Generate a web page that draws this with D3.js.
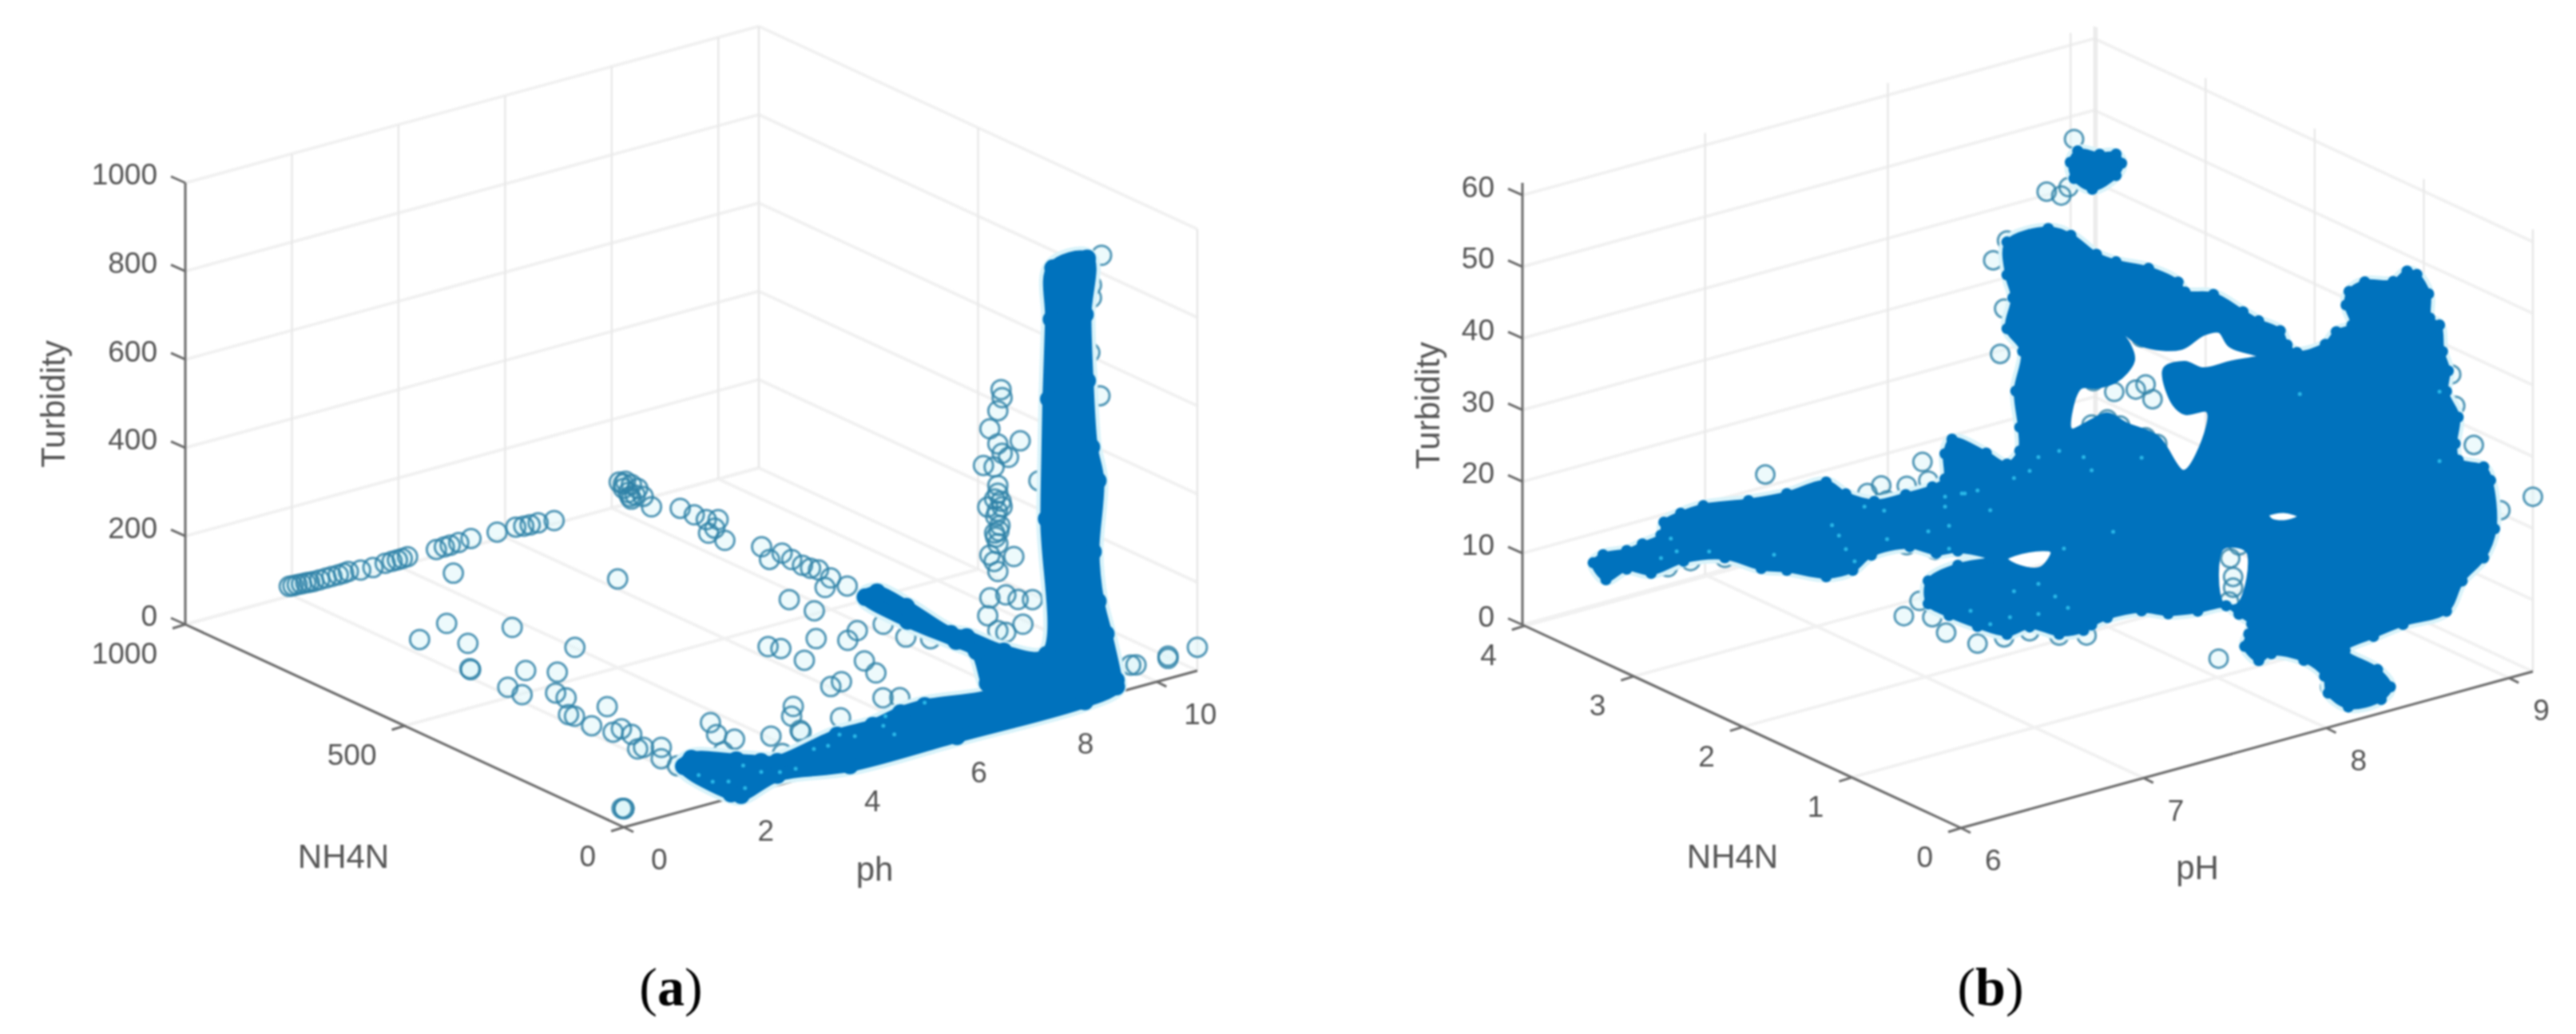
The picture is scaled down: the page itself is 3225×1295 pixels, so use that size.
<!DOCTYPE html>
<html>
<head>
<meta charset="utf-8">
<title>Turbidity, NH4N and pH scatter</title>
<script src="https://cdnjs.cloudflare.com/ajax/libs/d3/7.8.5/d3.min.js"></script>
<style>
  html, body { margin: 0; background: #fff; }
  svg { display: block; filter: blur(0.9px); }
  text { font-family: "Liberation Sans", Arial, sans-serif; fill: #555; }
  .panel { font-family: "Liberation Serif", serif; fill: #000; }
</style>
</head>
<body>
<svg id="chart" width="3225" height="1295"></svg>
<script>
// tick labels
var phTicksA = [0, 2, 4, 6, 8, 10];
var nTicksA = [0, 500, 1000];
var turbTicksA = [0, 200, 400, 600, 800, 1000];
var phTicksB = [6, 7, 8, 9];
var nTicksB = [0, 1, 2, 3, 4];
var turbTicksB = [0, 10, 20, 30, 40, 50, 60];

// panel (a): outline of the solid mass of overlapping markers [ph, NH4N, turbidity]
var massA = [[8.30,30,979],[8.94,30,980],[8.90,30,854],[8.94,30,703],[9.02,30,550],[9.14,30,470],[9.05,30,312],[9.14,30,197],[9.29,30,118],[9.48,30,7],[9.24,0,14],[8.65,0,0],[6.25,0,0],[4.24,0,0],[2.88,0,23],[2.2,0,0],[2.12,13,0],[2.26,138,0],[2.55,156,0],[3.04,113,0],[3.29,87,0],[3.48,73,0],[4.86,104,0],[5.53,104,0],[6.18,120,0],[6.65,122,0],[7.80,103,0],[7.96,138,0],[8.65,247,0],[8.67,296,0],[8.61,399,0],[8.72,509,0],[8.98,514,0],[8.96,445,0],[8.79,323,0],[8.90,300,0],[8.97,224,0],[9.39,177,0],[8.18,30,415],[8.22,30,685],[8.27,30,864]];

// panel (a): single markers
var ringsA = [
  // row along the back at NH4N = 1000
  [1.95,1000,21.9],[2.02,1000,21],[2.10,1000,20.8],[2.18,1000,20],[2.26,1000,19.5],[2.33,1000,18.5],[2.41,1000,17.9],[2.52,1000,18],[2.64,1000,17.9],[2.75,1000,18],[2.87,1000,17.7],[2.97,1000,18],[3.06,1000,19],[3.29,1000,14.8],[3.52,1000,12.7],[3.75,1000,14.8],[3.88,1000,15],[3.98,1000,14.8],[4.07,1000,15],[4.17,1000,15.9],[4.71,1000,14.5],[4.86,1000,15.4],[4.97,1000,15.6],[5.13,1000,16.3],[5.36,1000,17.7],[5.85,1000,16.3],[6.20,1000,16.1],[6.35,1000,13.4],[6.47,1000,12.3],[6.62,1000,11.9],[6.92,1000,7.2],
  // knot at the far end of that row
  [8.22,1000,47.7],[8.34,1000,14.8],[8.59,1000,7],[8.14,1000,54],[8.26,1000,52],[8.37,1000,41],[8.49,1000,28],[8.22,1000,37],[8.31,1000,25],[8.44,1000,15],[8.37,1000,8],
  // band coming back towards the front
  [8.50,970,0],[8.80,941,0],[8.80,909,0],[8.82,884,0],[8.96,874,0],[8.50,840,0],[8.51,804,0],[8.70,850,0],[8.78,753,0],[8.55,707,0],[8.86,716,0],[8.81,688,0],[8.79,661,0],[8.81,645,0],[8.86,633,0],[8.80,598,0],[8.49,573,0],[8.79,559,0],
  // loose floor markers
  [2.38,755,0],[3.11,782,0],[2.85,702,0],[4.47,932,0],[3.78,714,0],[6.26,775,0],[2.21,618,0],[2.23,622,0],[2.20,532,0],[2.84,569,0],[2.18,497,0],[3.17,537,0],[2.62,474,0],[2.62,450,0],[2.22,396,0],[2.25,386,0],[4.01,599,0],[2.21,342,0],[2.88,388,0],[2.30,304,0],[2.48,307,0],[2.46,281,0],[2.16,231,0],[0.47,57,0],[0.48,58,0],[0.46,60,0],
  [2.27,231,0],[2.48,216,0],[2.19,181,0],[2.20,145,0],[3.69,251,0],[3.46,209,0],[3.55,179,0],[3.09,149,0],[4.06,158,0],[3.75,94,0],[5.08,231,0],[4.81,202,0],[4.55,151,0],[4.52,145,0],[5.35,156,0],[6.03,261,0],[6.28,267,0],[6.91,265,0],[7.08,312,0],[6.31,438,0],[6.41,421,0],[6.39,365,0],[7.08,422,0],[7.41,390,0],[7.77,412,0],[7.76,566,0],[7.77,510,0],[6.36,182,0],[6.56,168,0],[8.24,410,0],[8.18,351,0],[8.43,325,0],
  // far right end of the ph axis
  [9.61,0,51],[9.51,0,54],[10.21,0,46],[10.21,0,51],[10.76,0,53],
  // second column
  [7.90,100,685],[7.92,100,666],[7.84,100,639],[7.69,100,603],[8.26,100,557],[7.84,100,564],[7.92,100,540],[7.57,100,524],[8.04,100,527],[7.77,100,514],[7.84,100,470],[7.84,100,452],[7.65,100,427],[7.92,100,419],[7.80,100,401],[7.88,100,378],[7.80,100,354],[7.84,100,338],[7.69,100,317],[8.14,100,299],[7.77,100,300],[7.84,100,275],[7.65,100,181],[7.69,100,220],[7.99,100,217],[8.22,100,199],[8.49,100,190],[7.84,100,141],[7.99,100,132],[8.31,100,140],[8.61,100,455],[7.78,100,441],[7.90,100,432],[7.83,100,412],[7.86,100,366],[7.78,100,364],
  // stragglers beside the main column
  [9.21,30,978],[9.02,30,917],[9.02,30,888],[8.99,30,765],[9.18,30,661]
];

// panel (a): small bright gaps between markers inside the mass
var specksA = [[2.43,19,0],[2.40,53,0],[2.98,90,0],[3.03,55,0],[3.25,39,0],[3.52,36,0],[4.24,82,0],[4.49,80,0],[4.91,105,0],[5.05,87,0],[5.65,95,0],[5.56,59,0],[5.92,123,0],[6.73,132,0],[2.21,98,0],[2.21,66,0]];

// panel (b): outline of the solid mass [pH, NH4N, turbidity]
var massB = [[7.50,2.09,56.6],[7.63,1.93,58.7],[7.70,1.84,57.9],[7.78,1.74,55.4],[7.84,1.66,54.5],[7.94,1.53,53.8],[8.03,1.41,52.1],[8.05,1.38,50.8],[8.14,1.27,50.6],[8.23,1.15,48.4],[8.28,1.09,47.2],[8.35,1.01,45.9],[8.37,0.98,44.0],[8.40,0.94,43.0],[8.49,0.83,44.3],[8.52,0.78,46.2],[8.57,0.72,47.2],[8.55,0.74,50.0],[8.56,0.73,51.9],[8.61,0.67,53.3],[8.70,0.56,53.5],[8.74,0.50,55.1],[8.77,0.46,54.7],[8.81,0.42,52.0],[8.81,0.41,48.7],[8.84,0.37,47.8],[8.85,0.36,44.1],[8.87,0.34,41.4],[8.86,0.34,38.6],[8.90,0.30,35.0],[8.89,0.31,31.3],[8.90,0.30,29.0],[8.98,0.20,28.2],[9.00,0.17,26.4],[9.01,0.15,19.7],[8.98,0.20,15.5],[8.91,0.28,12.2],[8.86,0.34,7.9],[8.73,0.52,5.7],[8.64,0.64,3.8],[8.55,0.75,1.7],[8.28,0,6.2],[8.35,0,3.3],[8.30,0,1.9],[8.12,0,2.1],[8.01,0,4.8],[7.99,0,7.3],[8.42,0.91,0.1],[8.32,1.04,0.8],[7.63,0,12.0],[8.24,1.15,1.6],[8.25,1.13,3.4],[8.26,1.12,4.8],[8.22,1.17,6.1],[8.18,1.22,7.2],[8.09,1.33,6.3],[8.00,1.45,5.7],[7.92,1.56,5.9],[7.81,1.69,4.8],[7.76,1.75,3.7],[7.74,1.79,2.8],[7.66,1.88,2.2],[7.57,2.00,3.0],[7.50,2.09,1.8],[7.41,2.21,2.7],[7.32,2.32,4.1],[7.26,2.41,5.5],[7.26,2.41,8.7],[7.35,2.29,11.1],[7.45,2.16,12.3],[7.35,2.29,13.1],[7.28,2.37,12.7],[7.20,2.48,13.4],[7.08,2.63,12.0],[7.02,2.70,9.8],[6.94,2.81,8.7],[6.82,2.97,9.3],[6.74,3.07,9.4],[6.63,3.22,10.6],[6.50,3.38,9.9],[6.40,3.51,8.0],[6.32,3.60,8.5],[6.26,3.69,6.8],[6.22,3.74,9.1],[6.25,3.70,10.3],[6.32,3.60,11.1],[6.37,3.54,12.1],[6.43,3.47,13.4],[6.44,3.46,15.2],[6.49,3.39,16.6],[6.56,3.30,17.8],[6.70,3.12,18.8],[6.82,2.97,20.0],[6.94,2.81,21.9],[7.00,2.73,20.4],[7.09,2.62,19.5],[7.19,2.50,20.6],[7.27,2.39,21.9],[7.31,2.34,23.1],[7.31,2.34,26.6],[7.33,2.31,28.7],[7.44,2.18,26.9],[7.50,2.09,25.6],[7.54,2.04,27.5],[7.54,2.04,30.8],[7.53,2.06,35.8],[7.55,2.03,41.4],[7.50,2.09,44.5],[7.52,2.07,48.8],[7.50,2.09,52.0]];

// panel (b): white gaps left inside that mass
var gapsB = [
  [[7.84,1.66,45.5],[7.92,1.56,43.1],[8.04,1.40,42.9],[8.11,1.32,44.9],[8.16,1.25,45.5],[8.19,1.20,43.6],[8.28,1.09,42.3],[8.19,1.20,41.2],[8.11,1.32,40.0],[8.05,1.38,40.9],[7.99,1.46,40.0],[7.99,1.47,38.6],[8.02,1.43,35.0],[8.05,1.38,33.9],[8.12,1.29,34.4],[8.12,1.29,32.0],[8.05,1.39,25.6],[7.97,1.50,30.2],[7.87,1.62,31.9],[7.81,1.69,33.2],[7.76,1.75,32.2],[7.70,1.84,30.7],[7.70,1.84,33.5],[7.73,1.80,36.8],[7.78,1.74,36.9],[7.84,1.66,37.9],[7.89,1.59,40.8],[7.88,1.61,43.0]],
  [[8.31,1.06,20.1],[8.36,0.99,20.8],[8.41,0.93,20.1],[8.37,0.98,19.3],[8.32,1.04,19.4]],
  [[8.17,1.24,15.2],[8.25,1.14,14.9],[8.22,1.17,7.5],[8.17,1.24,7.4]],
  [[7.50,2.10,12.3],[7.57,2.01,13.6],[7.64,1.91,13.7],[7.61,1.96,11.2],[7.54,2.04,11.3]]
];

// panel (b): small knot of markers near the top
var knotB = [[8.39,3,55.1],[8.43,3,56.4],[8.55,3,55.1],[8.64,3,54.5],[8.67,3,53],[8.64,3,51.5],[8.51,3,50.5],[8.41,3,52.7]];

// panel (b): single markers
var ringsB = [
  [8.41,3,58.2],[8.26,3,51.9],[8.34,3,50.8],[8.38,3,51.7],
  [7.46,2.15,53.9],[7.49,2.10,47.3],[7.48,2.12,40.9],[7.50,2.09,56.8],
  [7.90,1.58,36.8],[7.95,1.51,35.6],[7.93,1.54,37.6],[7.83,1.66,36.4],[7.77,1.75,37.7],[7.92,1.56,44.1],[7.88,1.60,30.1],[7.93,1.54,30.2],[7.97,1.50,29.3],[7.76,1.75,31.7],[7.81,1.69,32.5],[7.85,1.64,31.7],
  [9.13,0,24.4],[9.03,0.13,22.3],[8.95,0.24,31.2],[8.89,0.31,36.6],[8.88,0.33,40.9],
  [6.75,3.05,22.6],[7.24,2.43,25.3],[7.26,2.41,22.7],[7.19,2.49,21.9],[7.11,2.59,21.8],[7.07,2.65,20.6],[7.13,2.57,19.7],
  [6.25,3.69,9.2],[6.25,3.69,9.5],[6.26,3.68,8.8],[6.32,3.60,10.0],[6.37,3.54,10.8],[6.39,3.51,8.9],[6.45,3.44,9.0],[6.52,3.35,10.0],[6.63,3.22,10.6],[6.74,3.07,10.1],[6.82,2.97,10.2],[6.94,2.81,9.6],[7.02,2.70,10.7],[7.19,2.49,13.6],[7.28,2.38,13.1],[7.33,2.32,13.6],
  [7.18,2.50,3.7],[7.23,2.44,5.9],[7.27,2.39,3.7],[7.31,2.33,1.7],[7.41,2.21,0.3],[7.37,2.26,4.1],[7.49,2.10,1.4],[7.57,2.00,2.4],[7.66,1.88,2.0],[7.75,1.78,2.1],[7.73,1.80,3.4],
  [7.41,0,13.8],[8.22,1.17,15.7],[8.19,1.20,13.9],[8.20,1.19,11.3],[8.20,1.19,9.8],[8.19,1.21,7.8],
  [8.02,0,5.6],[8.12,0,2.9],[8.07,0,4.2]
];

// panel (b): small bright gaps between markers inside the mass
var specksB = [[7.06,2.66,18.7],[7.12,2.58,18.3],[7.31,2.34,19.2],[7.36,2.27,21.2],[7.41,2.21,21.7],[7.45,2.16,19.0],[6.98,2.76,14.5],[7.00,2.73,12.7],[7.13,2.57,14.3],[7.26,2.41,15.6],[7.32,2.32,16.6],[6.96,2.79,15.9],[7.03,2.70,11.0],[6.46,3.43,13.0],[6.48,3.41,11.2],[6.43,3.47,10.2],[6.58,3.28,11.4],[6.78,3.02,11.4],[7.31,2.34,20.6],[7.37,2.26,21.2],[7.52,2.06,23.7],[7.60,1.97,26.7],[7.57,2.00,24.8],[7.66,1.88,27.8],[7.76,1.75,25.3],[7.92,1.56,27.3],[7.74,1.79,27.0],[8.41,0.93,37.2],[8.84,0.37,28.8],[8.84,0.37,38.5],[7.32,2.32,13.4],[7.52,2.06,7.9],[7.60,1.97,9.0],[7.65,1.90,7.4],[7.69,1.85,5.9],[7.60,1.97,4.8],[7.51,2.08,4.2],[7.39,2.24,4.8],[7.45,2.16,3.1],[7.68,1.87,14.1],[7.83,1.67,16.8]];

var ringStroke = '#2f82a8';
var ringFill = '#dcf5fa';
var massBlue = '#0072bd';
var speckColor = '#2ab8e8';
var gridColor = '#f1f1f1';
var axisColor = '#6b6b6b';

var svg = d3.select('#chart');

// oblique projection of a box: each axis scale gives a 0-1 position along that edge
function makeProjection(box) {
  var sx = d3.scaleLinear().domain(box.phLim).range([0, 1]);
  var sy = d3.scaleLinear().domain(box.nLim).range([0, 1]);
  var sz = d3.scaleLinear().domain(box.tLim).range([0, 1]);
  return function(d) {
    var u = sx(d[0]), v = sy(d[1]), w = sz(d[2]);
    return [
      box.origin[0] + u * box.phVec[0] + v * box.nVec[0],
      box.origin[1] + u * box.phVec[1] + v * box.nVec[1] - w * box.height
    ];
  };
}

function segment(g, proj, a, b, cls) {
  var p = proj(a), q = proj(b);
  g.append('line')
    .attr('x1', p[0]).attr('y1', p[1])
    .attr('x2', q[0]).attr('y2', q[1])
    .attr('stroke', cls.color)
    .attr('stroke-width', cls.width);
}

function drawBox(g, box, proj) {
  var phMin = box.phLim[0], phMax = box.phLim[1];
  var nMin = box.nLim[0], nMax = box.nLim[1];
  var tMin = box.tLim[0], tMax = box.tLim[1];
  var soft = { color: gridColor, width: 4 };
  var thin = { color: '#e9e9e9', width: 2.5 };

  // floor
  box.phTicks.forEach(function(p) { segment(g, proj, [p, nMin, tMin], [p, nMax, tMin], soft); });
  box.nTicks.forEach(function(n) { segment(g, proj, [phMin, n, tMin], [phMax, n, tMin], soft); });
  // two back walls
  box.tTicks.forEach(function(t) {
    segment(g, proj, [phMin, nMax, t], [phMax, nMax, t], soft);
    segment(g, proj, [phMax, nMax, t], [phMax, nMin, t], soft);
  });
  box.phTicks.concat([phMax]).forEach(function(p) { segment(g, proj, [p, nMax, tMin], [p, nMax, tMax], thin); });
  box.nTicks.concat([nMin]).forEach(function(n) { segment(g, proj, [phMax, n, tMin], [phMax, n, tMax], thin); });

  // the three ruled axes
  var dark = { color: axisColor, width: 3 };
  segment(g, proj, [phMin, nMax, tMin], [phMin, nMax, tMax], dark);
  segment(g, proj, [phMin, nMax, tMin], [phMin, nMin, tMin], dark);
  segment(g, proj, [phMin, nMin, tMin], [phMax, nMin, tMin], dark);

  // ticks and their labels
  box.tTicks.forEach(function(t) {
    var p = proj([phMin, nMax, t]);
    g.append('line').attr('x1', p[0]).attr('y1', p[1]).attr('x2', p[0] - 18).attr('y2', p[1] - 8)
      .attr('stroke', axisColor).attr('stroke-width', 3);
    g.append('text').attr('x', p[0] - 35).attr('y', p[1] - 11).attr('dy', '0.36em')
      .attr('text-anchor', 'end').attr('font-size', 37).text(t);
  });
  box.nTicks.forEach(function(n) {
    var p = proj([phMin, n, tMin]);
    g.append('line').attr('x1', p[0]).attr('y1', p[1]).attr('x2', p[0] - 16).attr('y2', p[1] + 5)
      .attr('stroke', axisColor).attr('stroke-width', 3);
    g.append('text').attr('x', p[0] - 35).attr('y', p[1] + 36).attr('dy', '0.36em')
      .attr('text-anchor', 'end').attr('font-size', 37).text(n);
  });
  box.phTicks.forEach(function(v) {
    var p = proj([v, nMin, tMin]);
    g.append('line').attr('x1', p[0]).attr('y1', p[1]).attr('x2', p[0] + 12).attr('y2', p[1] + 6)
      .attr('stroke', axisColor).attr('stroke-width', 3);
    g.append('text').attr('x', p[0] + box.phLabelDx).attr('y', p[1] + 40).attr('dy', '0.36em')
      .attr('text-anchor', 'start').attr('font-size', 37).text(v);
  });

  // axis names
  g.append('text')
    .attr('transform', 'translate(' + box.turbPos + ') rotate(-90)')
    .attr('text-anchor', 'middle').attr('dy', '0.36em').attr('font-size', 42).text('Turbidity');
  g.append('text').attr('x', box.nPos[0]).attr('y', box.nPos[1]).attr('dy', '0.36em')
    .attr('text-anchor', 'middle').attr('font-size', 42).text('NH4N');
  g.append('text').attr('x', box.phPos[0]).attr('y', box.phPos[1]).attr('dy', '0.36em')
    .attr('text-anchor', 'middle').attr('font-size', 42).text(box.phName);
}

function drawRings(g, proj, rows, r) {
  // fills go down first so overlapping outlines build up into darker clumps
  drawDots(g, proj, rows, r, ringFill).attr('fill-opacity', 0.5);
  g.append('g').selectAll('circle').data(rows).enter().append('circle')
    .attr('cx', function(d) { return proj(d)[0]; })
    .attr('cy', function(d) { return proj(d)[1]; })
    .attr('r', r)
    .attr('fill', 'none')
    .attr('stroke', ringStroke).attr('stroke-opacity', 0.8).attr('stroke-width', 3);
}

function drawDots(g, proj, rows, r, color) {
  return g.append('g').selectAll('circle').data(rows).enter().append('circle')
    .attr('cx', function(d) { return proj(d)[0]; })
    .attr('cy', function(d) { return proj(d)[1]; })
    .attr('r', r)
    .attr('fill', color);
}

function drawMass(g, proj, outlines, width, bump) {
  var line = d3.line()
    .x(function(d) { return proj(d)[0]; })
    .y(function(d) { return proj(d)[1]; })
    .curve(d3.curveCatmullRomClosed);
  // pale halo first: the source image bleeds cyan round the blue
  g.append('path').attr('d', line(outlines[0]))
    .attr('fill', 'none').attr('stroke', '#d8f3fa').attr('stroke-width', width + 10).attr('stroke-linejoin', 'round');
  g.append('path').attr('d', outlines.map(function(o) { return line(o); }).join(''))
    .attr('fill', massBlue).attr('fill-rule', 'evenodd')
    .attr('stroke', massBlue).attr('stroke-width', width).attr('stroke-linejoin', 'round');
  // marker-sized bumps give the edge its scalloped look
  drawDots(g, proj, outlines[0], bump, massBlue);
}

// panel (a)
var boxA = {
  origin: [781, 1036], phVec: [718, -196], nVec: [-549, -254], height: 553,
  phLim: [0, 10.76], nLim: [0, 1000], tLim: [0, 1000],
  phTicks: phTicksA, nTicks: nTicksA, tTicks: turbTicksA,
  phLabelDx: 34, phName: 'ph',
  turbPos: [66, 506], nPos: [430, 1072], phPos: [1095, 1088]
};
var projA = makeProjection(boxA);
var gA = svg.append('g');
drawBox(gA, boxA, projA);
drawRings(gA, projA, ringsA, 12);
drawMass(gA, projA, [massA], 16, 11);
drawDots(gA, projA, specksA, 2.5, speckColor);

// panel (b)
var boxB = {
  origin: [2455, 1037], phVec: [716, -196], nVec: [-549, -254.5], height: 553.4,
  phLim: [6, 9.13], nLim: [0, 4.02], tLim: [0, 61.7],
  phTicks: phTicksB, nTicks: nTicksB, tTicks: turbTicksB,
  phLabelDx: 30, phName: 'pH',
  turbPos: [1787, 508], nPos: [2169, 1072], phPos: [2751, 1086]
};
var projB = makeProjection(boxB);
var gB = svg.append('g');
drawBox(gB, boxB, projB);
drawRings(gB, projB, ringsB, 11.5);
drawMass(gB, projB, [massB].concat(gapsB), 5, 7);
drawMass(gB, projB, [knotB], 5, 7);
drawDots(gB, projB, specksB, 2.5, speckColor);

// panel captions
[['a', 840], ['b', 2492]].forEach(function(c) {
  var t = svg.append('text').attr('class', 'panel').attr('x', c[1]).attr('y', 1259)
    .attr('text-anchor', 'middle').attr('font-size', 68);
  t.append('tspan').text('(');
  t.append('tspan').attr('font-weight', 'bold').text(c[0]);
  t.append('tspan').text(')');
});
</script>
</body>
</html>
